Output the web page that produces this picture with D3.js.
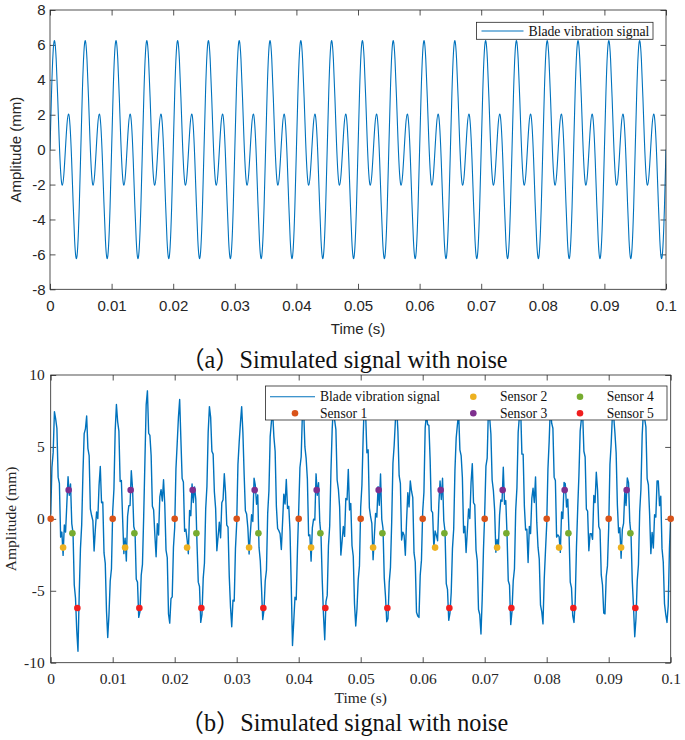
<!DOCTYPE html>
<html><head><meta charset="utf-8">
<script src="https://cdn.jsdelivr.net/npm/d3@7"></script>
<style>body{margin:0;background:#fff}svg{display:block}</style>
</head><body>
<svg id="c" width="685" height="740"></svg>
<script>
// ---------- data ----------
const xTicks = [0, 0.01, 0.02, 0.03, 0.04, 0.05, 0.06, 0.07, 0.08, 0.09, 0.1];
const xTickLabels = ["0", "0.01", "0.02", "0.03", "0.04", "0.05", "0.06", "0.07", "0.08", "0.09", "0.1"];
const topYTicks = [-8, -6, -4, -2, 0, 2, 4, 6, 8];
const topYTickLabels = ["-8", "-6", "-4", "-2", "0", "2", "4", "6", "8"];
const bottomYTicks = [-10, -5, 0, 5, 10];
const bottomYTickLabels = ["-10", "-5", "0", "5", "10"];

// clean blade vibration signal (mm), sampled every 0.00025 s from 0 to 0.1 s
const cleanStep = 0.00025;
const cleanSignal = [
0,3.28,5.57,6.23,5.2,3,0.5,-1.38,-2.04,-1.42,0,1.42,2.04,1.38,-0.5,-3,-5.2,-6.23,-5.57,-3.28,
0,3.28,5.57,6.23,5.2,3,0.5,-1.38,-2.04,-1.42,0,1.42,2.04,1.38,-0.5,-3,-5.2,-6.23,-5.57,-3.28,
0,3.28,5.57,6.23,5.2,3,0.5,-1.38,-2.04,-1.42,0,1.42,2.04,1.38,-0.5,-3,-5.2,-6.23,-5.57,-3.28,
0,3.28,5.57,6.23,5.2,3,0.5,-1.38,-2.04,-1.42,0,1.42,2.04,1.38,-0.5,-3,-5.2,-6.23,-5.57,-3.28,
0,3.28,5.57,6.23,5.2,3,0.5,-1.38,-2.04,-1.42,0,1.42,2.04,1.38,-0.5,-3,-5.2,-6.23,-5.57,-3.28,
0,3.28,5.57,6.23,5.2,3,0.5,-1.38,-2.04,-1.42,0,1.42,2.04,1.38,-0.5,-3,-5.2,-6.23,-5.57,-3.28,
0,3.28,5.57,6.23,5.2,3,0.5,-1.38,-2.04,-1.42,0,1.42,2.04,1.38,-0.5,-3,-5.2,-6.23,-5.57,-3.28,
0,3.28,5.57,6.23,5.2,3,0.5,-1.38,-2.04,-1.42,0,1.42,2.04,1.38,-0.5,-3,-5.2,-6.23,-5.57,-3.28,
0,3.28,5.57,6.23,5.2,3,0.5,-1.38,-2.04,-1.42,0,1.42,2.04,1.38,-0.5,-3,-5.2,-6.23,-5.57,-3.28,
0,3.28,5.57,6.23,5.2,3,0.5,-1.38,-2.04,-1.42,0,1.42,2.04,1.38,-0.5,-3,-5.2,-6.23,-5.57,-3.28,
0,3.28,5.57,6.23,5.2,3,0.5,-1.38,-2.04,-1.42,0,1.42,2.04,1.38,-0.5,-3,-5.2,-6.23,-5.57,-3.28,
0,3.28,5.57,6.23,5.2,3,0.5,-1.38,-2.04,-1.42,0,1.42,2.04,1.38,-0.5,-3,-5.2,-6.23,-5.57,-3.28,
0,3.28,5.57,6.23,5.2,3,0.5,-1.38,-2.04,-1.42,0,1.42,2.04,1.38,-0.5,-3,-5.2,-6.23,-5.57,-3.28,
0,3.28,5.57,6.23,5.2,3,0.5,-1.38,-2.04,-1.42,0,1.42,2.04,1.38,-0.5,-3,-5.2,-6.23,-5.57,-3.28,
0,3.28,5.57,6.23,5.2,3,0.5,-1.38,-2.04,-1.42,0,1.42,2.04,1.38,-0.5,-3,-5.2,-6.23,-5.57,-3.28,
0,3.28,5.57,6.23,5.2,3,0.5,-1.38,-2.04,-1.42,0,1.42,2.04,1.38,-0.5,-3,-5.2,-6.23,-5.57,-3.28,
0,3.28,5.57,6.23,5.2,3,0.5,-1.38,-2.04,-1.42,0,1.42,2.04,1.38,-0.5,-3,-5.2,-6.23,-5.57,-3.28,
0,3.28,5.57,6.23,5.2,3,0.5,-1.38,-2.04,-1.42,0,1.42,2.04,1.38,-0.5,-3,-5.2,-6.23,-5.57,-3.28,
0,3.28,5.57,6.23,5.2,3,0.5,-1.38,-2.04,-1.42,0,1.42,2.04,1.38,-0.5,-3,-5.2,-6.23,-5.57,-3.28,
0,3.28,5.57,6.23,5.2,3,0.5,-1.38,-2.04,-1.42,0,1.42,2.04,1.38,-0.5,-3,-5.2,-6.23,-5.57,-3.28,
0];

// noisy blade vibration signal (mm), sampled every 0.0002 s from 0 to 0.1 s
const noisyStep = 0.0002;
const noisySignal = [
0.3,3.57,4.62,7.45,6.95,6.3,2.9,2.47,-1.27,-0.92,-2.54,-0.43,-0.92,1.02,2.93,1.64,2.42,-0.33,-0.97,-4.6,-5.5,-7.75,-9.2,-5.22,-2.07,
-0.4,3.17,5.92,6.25,7.15,4.9,4.4,0.67,0.23,-0.12,-2.24,-0.73,0.48,0.02,2.33,3.64,1.12,1.17,-2.37,-3.1,-6.4,-8.25,-6.65,-4.32,-3.47,
0.5,2.07,6.12,7.95,6.75,6.1,2.6,2.67,0.03,-2.42,-1.34,-2.93,0.18,0.92,0.93,3.34,2.12,-0.53,-0.87,-4.2,-4.4,-6.85,-6.45,-3.92,-3.17,
0.2,4.07,7.92,8.9,5.95,5.8,4.4,0.87,0.63,-1.12,-2.64,-0.33,-1.12,1.52,2.03,1.24,2.72,0.97,-2.17,-2.7,-6.6,-7.25,-5.55,-5.42,-1.97,
-0.6,3.47,5.22,7.05,8.3,5.5,2.8,2.57,-0.87,-0.72,-1.44,-2.43,0.58,0.22,2.43,1.14,2.22,1.37,-1.77,-4.4,-4.7,-7.2,-6.65,-4.12,-3.07,
0.7,2.27,6.02,7.8,7.05,4.7,4.5,1.87,0.73,-2.22,-1.24,-0.23,-1.32,1.12,1.33,3.14,1.82,-0.43,-0.57,-4,-6.1,-7.5,-5.65,-5.72,-2.07,
-0.3,3.77,5.32,6.65,7.8,6,3.1,0.57,0.33,-0.62,-2.44,-1.03,0.28,-0.18,2.83,2.34,1.02,1.67,-1.97,-2.9,-4.8,-7,-6.35,-4.32,-3.57,
0.4,1.97,5.72,6.75,7.4,5.7,4.7,0.87,-0.67,-0.82,-1.04,-2.13,-0.22,1.72,1.03,2.74,0.72,0.87,-0.87,-4.7,-8.8,-7.15,-5.45,-5.62,-2.17,
0.6,3.57,4.32,7.35,7.55,5,4.2,2.77,-1.17,-1.12,-2.94,-0.63,-0.02,-0.08,3.13,1.64,2.52,-0.23,-1.17,-4.3,-6.7,-8.4,-5.75,-5.32,-1.87,
-0.5,3.27,6.22,7.85,6.85,6.2,2.7,2.07,0.83,-2.52,-1.54,-0.53,-1.22,1.42,1.33,3.44,0.62,1.07,-1.87,-2.6,-5.9,-7.45,-6.25,-4.22,-3.27,
0.8,2.37,5.72,8.35,7.25,4.6,4.8,0.77,0.13,-0.32,-2.84,-1.23,0.38,0.12,2.23,0.94,3.12,-0.03,-0.67,-4.1,-5.4,-7.15,-6.95,-4.42,-3.37,
-0.2,3.87,5.12,6.85,7.75,6.1,3,2.47,-1.47,-0.92,-1.14,-2.53,-0.12,1.82,0.83,2.64,1.92,1.47,-2.37,-3,-6.5,-6.75,-6.85,-3.92,-2.87,
0.5,1.87,6.32,7.25,6.55,6.5,4.1,0.57,0.43,-2.02,-0.84,-1.13,-1.52,1.02,2.63,1.34,2.82,-0.13,-0.87,-4.5,-4.9,-7.05,-6.55,-5.12,-2.07,
-0.7,3.37,5.62,6.55,7.35,4.8,4.4,2.87,-0.97,-0.52,-2.34,-0.83,0.68,0.02,2.53,3.84,1.12,0.97,-2.17,-2.9,-6.3,-6.65,-8,-5.52,-2.17,
0.4,3.67,4.22,7.65,7.05,5.9,2.7,1.97,0.63,-2.32,-1.44,-2.13,0.28,1.32,1.23,3.59,1.02,1.27,-1.07,-4.3,-4.6,-7.35,-6.45,-4.32,-3.47,
0.6,2.17,6.02,7.15,7.65,4.5,4.5,0.87,-0.77,-0.72,-3.04,-0.53,-1.02,1.42,2.13,1.14,2.92,-0.23,-1.97,-2.8,-6,-6.45,-7.3,-4.22,-2.27,
-0.4,3.47,5.42,7.95,6.65,6.3,2.9,2.67,-1.27,-1.12,-1.24,-2.33,0.48,0.02,2.53,2.44,0.82,1.37,-0.97,-4.4,-4.8,-6.75,-7.2,-5.72,-1.97,
0.7,3.07,6.12,6.95,7.35,4.7,4.3,0.67,0.53,-2.22,-1.04,-1.03,-1.42,1.62,1.13,3.24,2.02,-0.53,-0.77,-3.9,-4.6,-6.55,-6.6,-4.02,-3.27,
-0.6,3.77,5.22,7.25,7.15,6,4.6,0.97,-0.97,-0.62,-2.74,-0.73,-0.32,1.92,0.93,2.84,2.52,-0.23,-1.07,-4.3,-6.1,-8.2,-6.95,-4.32,-3.17,
0.5,2.07,5.82,7.45,6.95,6.4,2.8,2.37,0.33,-2.42,-0.94,-2.03,0.28,0.12,2.63,2.64,0.92,1.57,-2.07,-3,-5.9,-6.65,-7.2,-6.02,-2.07,
0.2];

// sensor samples (time in s, amplitude in mm)
const sensorNames = ["Sensor 1", "Sensor 2", "Sensor 3", "Sensor 4", "Sensor 5"];
const sensor1Times = [0, 0.01, 0.02, 0.03, 0.04, 0.05, 0.06, 0.07, 0.08, 0.09, 0.1];
const sensor2Times = [0.002, 0.012, 0.022, 0.032, 0.042, 0.052, 0.062, 0.072, 0.082, 0.092];
const sensor3Times = [0.0029, 0.0129, 0.0229, 0.0329, 0.0429, 0.0529, 0.0629, 0.0729, 0.0829, 0.0929];
const sensor4Times = [0.0035, 0.0135, 0.0235, 0.0335, 0.0435, 0.0535, 0.0635, 0.0735, 0.0835, 0.0935];
const sensor5Times = [0.0043, 0.0143, 0.0243, 0.0343, 0.0443, 0.0543, 0.0643, 0.0743, 0.0843, 0.0943];
const sensorValues = [0, -2, 2, -1, -6.2];
const sensorColors = ["#D95319", "#EDB120", "#7E2F8E", "#77AC30", "#F01E1E"];

// ---------- drawing ----------
const svg = d3.select("#c");
const AX = "#262626";
const LINE = "#0072BD";
const SANS = "'Liberation Sans', Arial, Helvetica, sans-serif";
const SERIF = "'Liberation Serif', 'Times New Roman', Times, serif";
const CAP = "'Liberation Serif', 'Times New Roman', 'Noto Sans CJK SC', serif";

function panel(cfg) {
  const g = svg.append("g");
  const x = d3.scaleLinear().domain([0, 0.1]).range([cfg.left, cfg.right]);
  const y = d3.scaleLinear().domain(cfg.yDomain).range([cfg.bottom, cfg.top]);
  const tk = 5.5;
  const styleAxis = (sel, showText) => {
    sel.select(".domain").remove();
    sel.selectAll(".tick line").attr("stroke", AX).attr("stroke-width", 0.8);
    sel.selectAll(".tick text").attr("fill", AX).style("font-family", cfg.font).style("font-size", cfg.fontSize + "px");
    if (!showText) sel.selectAll(".tick text").remove();
  };
  g.append("g").attr("transform", `translate(0,${cfg.bottom})`)
    .call(d3.axisBottom(x).tickValues(xTicks).tickFormat((d, i) => xTickLabels[i]).tickSizeInner(-tk).tickSizeOuter(0).tickPadding(cfg.xPad))
    .call(s => styleAxis(s, true));
  g.append("g").attr("transform", `translate(0,${cfg.top})`)
    .call(d3.axisTop(x).tickValues(xTicks).tickSizeInner(-tk).tickSizeOuter(0))
    .call(s => styleAxis(s, false));
  g.append("g").attr("transform", `translate(${cfg.left},0)`)
    .call(d3.axisLeft(y).tickValues(cfg.yTicks).tickFormat((d, i) => cfg.yLabels[i]).tickSizeInner(-tk).tickSizeOuter(0).tickPadding(cfg.yPad))
    .call(s => styleAxis(s, true));
  g.append("g").attr("transform", `translate(${cfg.right},0)`)
    .call(d3.axisRight(y).tickValues(cfg.yTicks).tickSizeInner(-tk).tickSizeOuter(0))
    .call(s => styleAxis(s, false));
  const clipId = "clip" + cfg.id;
  svg.append("clipPath").attr("id", clipId).append("rect")
    .attr("x", cfg.left).attr("y", cfg.top).attr("width", cfg.right - cfg.left).attr("height", cfg.bottom - cfg.top);
  const plot = g.append("g").attr("clip-path", `url(#${clipId})`);
  g.append("rect").attr("x", cfg.left).attr("y", cfg.top).attr("width", cfg.right - cfg.left).attr("height", cfg.bottom - cfg.top)
    .attr("fill", "none").attr("stroke", AX).attr("stroke-width", 0.8);
  // axis labels
  g.append("text").attr("x", (cfg.left + cfg.right) / 2).attr("y", cfg.xLabelY).attr("text-anchor", "middle")
    .style("font-family", cfg.font).style("font-size", cfg.labelSize + "px").attr("fill", AX).text("Time (s)");
  g.append("text").attr("transform", `translate(${cfg.yLabelX},${(cfg.top + cfg.bottom) / 2}) rotate(-90)`).attr("text-anchor", "middle")
    .style("font-family", cfg.font).style("font-size", cfg.labelSize + "px").attr("fill", AX).text("Amplitude (mm)");
  return {g, plot, x, y};
}

// ---- top panel ----
const A = panel({id: "a", left: 50, right: 666, top: 10, bottom: 289.3, yDomain: [-8, 8], yTicks: topYTicks, yLabels: topYTickLabels,
  font: SANS, fontSize: 15, labelSize: 15, xPad: 11.5, yPad: 4.5, xLabelY: 334, yLabelX: 21});
A.plot.append("path").datum(cleanSignal)
  .attr("d", d3.line().x((d, i) => A.x(i * cleanStep)).y(d => A.y(d)).curve(d3.curveNatural))
  .attr("fill", "none").attr("stroke", LINE).attr("stroke-width", 1.1);

// top legend
const lgA = A.g.append("g");
lgA.append("rect").attr("x", 476.5).attr("y", 22.3).attr("width", 176.5).attr("height", 17)
  .attr("fill", "#fff").attr("stroke", AX).attr("stroke-width", 0.8);
lgA.append("line").attr("x1", 481.5).attr("x2", 523.5).attr("y1", 31).attr("y2", 31).attr("stroke", LINE).attr("stroke-width", 1.1);
lgA.append("text").attr("x", 528.5).attr("y", 35.6).style("font-family", SERIF).style("font-size", "13.7px").attr("fill", "#111")
  .text("Blade vibration signal");

// caption a
svg.append("text").attr("x", 344).attr("y", 368).attr("text-anchor", "middle")
  .style("font-family", CAP).style("font-size", "24.2px").attr("fill", "#111").text("（a）Simulated signal with noise");

// ---- bottom panel ----
const B = panel({id: "b", left: 50.7, right: 670.7, top: 375, bottom: 662.7, yDomain: [-10, 10], yTicks: bottomYTicks, yLabels: bottomYTickLabels,
  font: SERIF, fontSize: 15.5, labelSize: 15.5, xPad: 10.3, yPad: 6, xLabelY: 703, yLabelX: 16});
B.plot.append("path").datum(noisySignal)
  .attr("d", d3.line().x((d, i) => B.x(i * noisyStep)).y(d => B.y(d)))
  .attr("fill", "none").attr("stroke", LINE).attr("stroke-width", 1.4).attr("stroke-linejoin", "round");

const sensorTimes = [sensor1Times, sensor2Times, sensor3Times, sensor4Times, sensor5Times];
sensorTimes.forEach((ts, si) => {
  B.g.append("g").selectAll("circle").data(ts).join("circle")
    .attr("cx", d => B.x(d)).attr("cy", B.y(sensorValues[si])).attr("r", 3.3)
    .attr("fill", sensorColors[si]);
});

// bottom legend
const lgB = B.g.append("g");
lgB.append("rect").attr("x", 265.5).attr("y", 386).attr("width", 401.5).attr("height", 34)
  .attr("fill", "#fff").attr("stroke", AX).attr("stroke-width", 0.8);
lgB.append("line").attr("x1", 270).attr("x2", 315).attr("y1", 396.7).attr("y2", 396.7).attr("stroke", LINE).attr("stroke-width", 1.1);
const legendText = (x, y, t) => lgB.append("text").attr("x", x).attr("y", y).style("font-family", SERIF).style("font-size", "13.6px").attr("fill", "#111").text(t);
legendText(320, 401.3, "Blade vibration signal");
const legendPos = [[295, 320, 413.3], [473.3, 500, 396.7], [473.3, 500, 413.3], [580, 606.7, 396.7], [580, 606.7, 413.3]];
legendPos.forEach((p, i) => {
  lgB.append("circle").attr("cx", p[0]).attr("cy", p[2]).attr("r", 3.3).attr("fill", sensorColors[i]);
  legendText(p[1], p[2] + 4.6, sensorNames[i]);
});

// caption b
svg.append("text").attr("x", 344).attr("y", 731).attr("text-anchor", "middle")
  .style("font-family", CAP).style("font-size", "24.2px").attr("fill", "#111").text("（b）Simulated signal with noise");
</script>
</body></html>
